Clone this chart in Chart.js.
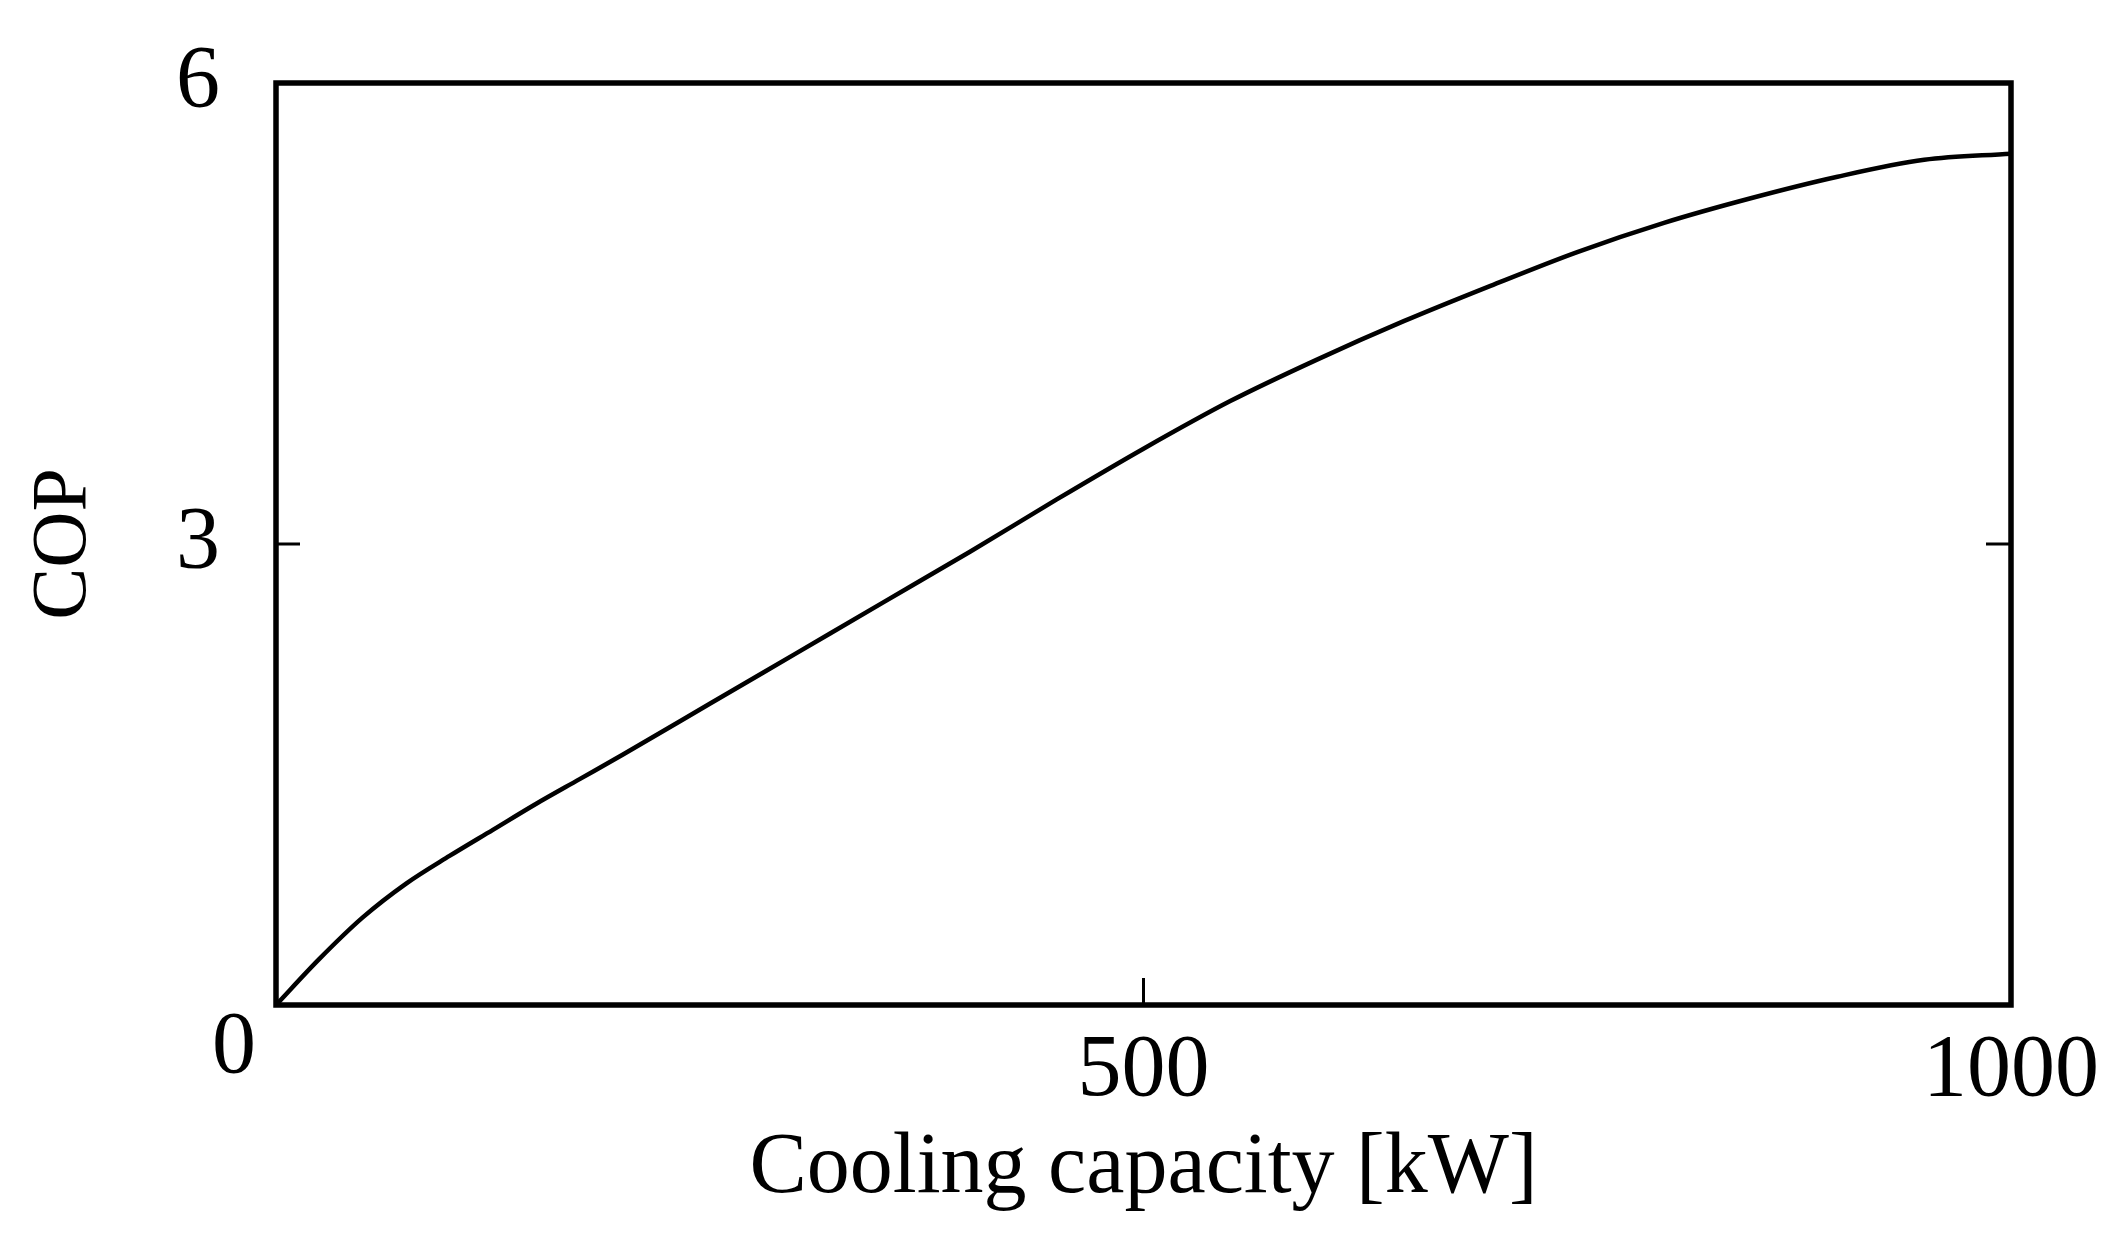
<!DOCTYPE html>
<html>
<head>
<meta charset="utf-8">
<script src="https://cdn.jsdelivr.net/npm/chart.js@4.4.1/dist/chart.umd.min.js"></script>
<style>
  html, body { margin: 0; padding: 0; background: #fff; }
  #wrap { width: 2124px; height: 1241px; }
</style>
</head>
<body>
<div id="wrap"><canvas id="cop-chart" width="2124" height="1241"></canvas></div>
<script>
// values
const capacityKW = [0, 25, 50, 75, 100, 125, 150, 175, 200, 250, 300, 350, 400, 450, 500,
                    550, 600, 650, 700, 750, 800, 850, 900, 950, 1000];
const copValues  = [0, 0.30, 0.57, 0.79, 0.97, 1.14, 1.31, 1.47, 1.63, 1.96, 2.29, 2.62, 2.95, 3.29, 3.62,
                    3.93, 4.20, 4.45, 4.68, 4.90, 5.09, 5.25, 5.39, 5.50, 5.54];
const xTicks = [0, 500, 1000];
const yTicks = [0, 3, 6];

const serif = '"Liberation Serif", "Times New Roman", serif';

// frame round the plot area plus inward tick marks
const framePlugin = {
    id: 'frame',
    afterDraw(chart) {
        const { ctx, chartArea: a, scales } = chart;
        ctx.save();
        ctx.strokeStyle = '#000';
        ctx.lineWidth = 5.5;
        ctx.strokeRect(a.left, a.top, a.right - a.left, a.bottom - a.top);

        ctx.lineWidth = 3;
        ctx.beginPath();
        xTicks.slice(1, -1).forEach(v => {
            const px = scales.x.getPixelForValue(v);
            ctx.moveTo(px, a.bottom);
            ctx.lineTo(px, a.bottom - 27);
        });
        yTicks.slice(1, -1).forEach(v => {
            const py = scales.y.getPixelForValue(v);
            ctx.moveTo(a.left, py);
            ctx.lineTo(a.left + 24, py);
            ctx.moveTo(a.right, py);
            ctx.lineTo(a.right - 25, py);
        });
        ctx.stroke();

        // shared origin label sits below-left of the corner
        ctx.fillStyle = '#000';
        ctx.font = '88px ' + serif;
        ctx.textAlign = 'center';
        ctx.textBaseline = 'middle';
        ctx.fillText('0', scales.x.getPixelForValue(0) - 42, scales.y.getPixelForValue(0) + 44);
        ctx.restore();
    }
};

const data = {
    datasets: [{
        label: 'COP',
        data: capacityKW.map((x, i) => ({ x: x, y: copValues[i] })),
        borderColor: '#000',
        borderWidth: 4.5,
        pointRadius: 0,
        fill: false,
        cubicInterpolationMode: 'monotone'
    }]
};

new Chart(document.getElementById('cop-chart'), {
    type: 'line',
    data: data,
    options: {
        responsive: false,
        animation: false,
        devicePixelRatio: 1,
        layout: { padding: { left: 0, top: 83, right: 113, bottom: 0 } },
        plugins: {
            legend: { display: false },
            tooltip: { enabled: false }
        },
        scales: {
            x: {
                type: 'linear',
                min: 0,
                max: 1000,
                afterFit: s => { s.height = 236; },
                afterBuildTicks: s => { s.ticks = xTicks.map(v => ({ value: v })); },
                grid: { display: false, drawTicks: false },
                border: { display: false },
                ticks: {
                    color: '#000',
                    font: { family: serif, size: 88 },
                    padding: 14,
                    maxRotation: 0,
                    callback: v => (v === 0 ? '' : String(v))
                },
                title: {
                    display: true,
                    text: 'Cooling capacity [kW]',
                    color: '#000',
                    font: { family: serif, size: 86 },
                    padding: { top: 0, bottom: 20 }
                }
            },
            y: {
                min: 0,
                max: 6,
                afterFit: s => { s.width = 276; s.paddingTop = 0; s.paddingBottom = 0; },
                afterBuildTicks: s => { s.ticks = yTicks.map(v => ({ value: v })); },
                grid: { display: false, drawTicks: false },
                border: { display: false },
                ticks: {
                    color: '#000',
                    font: { family: serif, size: 88 },
                    padding: 56,
                    callback: v => (v === 0 ? '' : String(v))
                },
                title: {
                    display: true,
                    text: 'COP',
                    color: '#000',
                    font: { family: serif, size: 78 },
                    padding: { top: 18, bottom: 0 }
                }
            }
        }
    },
    plugins: [framePlugin]
});
</script>
</body>
</html>
